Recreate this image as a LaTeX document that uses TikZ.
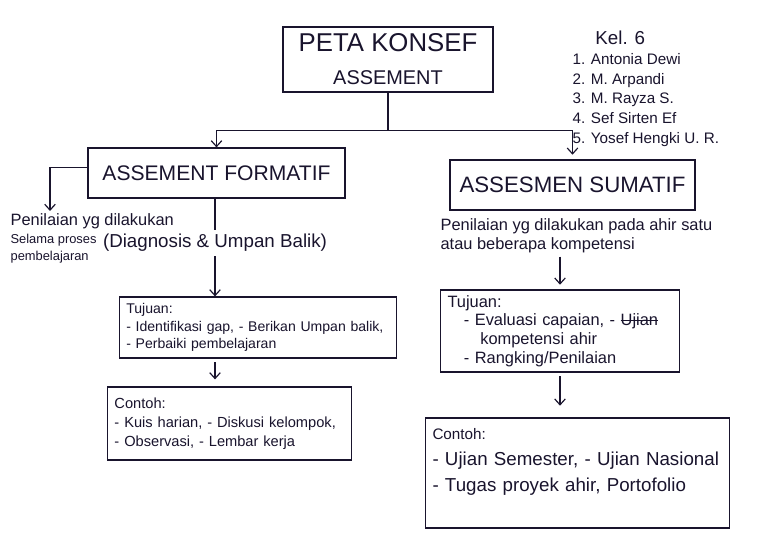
\documentclass[tikz,border=0pt]{standalone}
\usepackage{fontspec}
\setmainfont{Liberation Sans}
\usetikzlibrary{positioning,arrows.meta}
\definecolor{tinta}{RGB}{25,20,45}
\newlength{\coretlen}
\newcommand{\coret}[1]{\settowidth{\coretlen}{#1}\rlap{\rule[0.28em]{\coretlen}{0.8pt}}#1}

\tikzset{
  judul/.style={draw, minimum width=6.3cm, minimum height=1.95cm, align=center, font=\fontsize{22}{28}\selectfont},
  jenis/.style={draw, minimum height=1.5cm, font=\fontsize{18}{20}\selectfont},
  isi/.style={draw, align=left, inner xsep=6pt, inner ysep=2pt},
  ket/.style={align=left, inner sep=0pt},
}

\begin{document}
\begin{tikzpicture}[x=0.03cm, y=-0.03cm, line width=1pt, color=tinta,
                    >={Straight Barb[length=5pt,width=9pt]}]
   \fill[white] (0,0) rectangle (768,543);
   \useasboundingbox (0,0) rectangle (768,543);

   \node[judul] (peta) at (388,59.5) {PETA KONSEF\\{\fontsize{17}{20}\selectfont ASSEMENT}};
   \node[ket, anchor=north west, font=\fontsize{13}{17}\selectfont] (kelompok) at (572,30)
     {\hspace{1.5em}{\fontsize{16}{18}\selectfont Kel. 6}\\1. Antonia Dewi\\2. M. Arpandi\\3. M. Rayza S.\\4. Sef Sirten Ef\\5. Yosef Hengki U. R.};

   \node[jenis, minimum width=7.71cm] (formatif) at (216.5,173) {ASSEMENT FORMATIF};
   \node[jenis, minimum width=7.35cm, font=\fontsize{19}{20}\selectfont] (sumatif) at (572.5,185) {ASSESMEN SUMATIF};

   % formatif
   \node[ket, anchor=north west, font=\fontsize{14}{15}\selectfont] (catatan) at (10,213)
     {Penilaian yg dilakukan\\{\fontsize{11}{12}\selectfont Selama proses}\\{\fontsize{11}{12}\selectfont pembelajaran}};
   \coordinate (catatanAtas) at (50,211);
   \node[font=\fontsize{16}{18}\selectfont] (diagnosis) at (215,243) {(Diagnosis \& Umpan Balik)};
   \node[isi, text width=7.9cm, minimum height=1.83cm, font=\fontsize{12}{15}\selectfont] (tujuanF) at (258,327.5)
     {Tujuan:\\- Identifikasi gap, - Berikan Umpan balik,\\- Perbaiki pembelajaran};
   \node[isi, text width=6.9cm, minimum height=2.19cm, font=\fontsize{12.5}{16}\selectfont] (contohF) at (229.5,423.5)
     {Contoh:\\- Kuis harian, - Diskusi kelompok,\\- Observasi, - Lembar kerja};

   % sumatif
   \node[ket, anchor=north west, font=\fontsize{14}{16}\selectfont] (penjelasan) at (440,218)
     {Penilaian yg dilakukan pada ahir satu\\atau beberapa kompetensi};
   \node[isi, text width=6.75cm, minimum height=2.46cm, font=\fontsize{14}{16}\selectfont] (tujuanS) at (560,331)
     {Tujuan:\\\quad- Evaluasi capaian, - \coret{Ujian}\\\qquad kompetensi ahir\\\quad- Rangking/Penilaian};
   \node[isi, text width=8.7cm, minimum height=3.3cm, font=\fontsize{16}{22}\selectfont] (contohS) at (577.5,473)
     {{\fontsize{13}{15}\selectfont Contoh:}\\- Ujian Semester, - Ujian Nasional\\- Tugas proyek ahir, Portofolio\\\mbox{}};

   \draw (peta.south) -- ++(0,38) coordinate (cabang);
   \draw[->] (cabang) -| (formatif.north);
   \draw[->] (cabang) -| ([yshift=4pt]sumatif.north);
   \draw[->] ([yshift=5pt]formatif.west) -| (catatanAtas);
   \draw (formatif.south -| diagnosis.north) -- (diagnosis.north);
   \draw[->] (diagnosis.south) -- (diagnosis.south |- tujuanF.north);
   \draw[->, shorten <=3pt, shorten >=6pt] (tujuanF.south -| diagnosis) -- (contohF.north -| diagnosis);
   \draw[->, shorten <=3pt, shorten >=4pt] (penjelasan.south -| tujuanS.north) -- (tujuanS.north);
   \draw[->, shorten <=3pt, shorten >=10pt] (tujuanS.south) -- (tujuanS.south |- contohS.north);
\end{tikzpicture}
\end{document}
